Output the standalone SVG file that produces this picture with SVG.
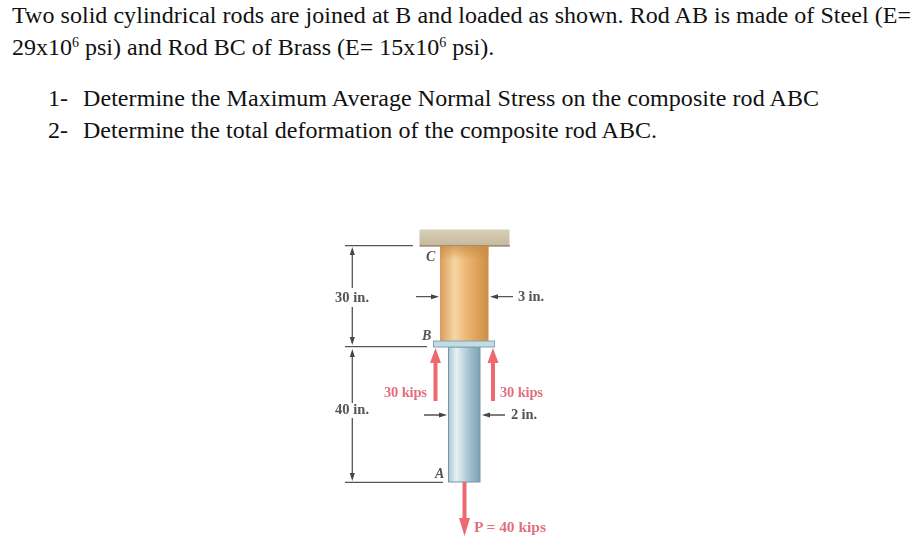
<svg xmlns="http://www.w3.org/2000/svg" width="916" height="549" viewBox="0 0 916 549">
<style>
.t{font-family:"Liberation Serif",serif;font-size:24px;fill:#111}
.s{font-size:14px}
.d{font-family:"Liberation Serif",serif;font-size:14.500px;font-weight:bold;fill:#555}
.r{font-family:"Liberation Serif",serif;font-size:14.500px;font-weight:bold;fill:#e0707f}
.big{font-size:15.500px}
.l{font-family:"Liberation Serif",serif;font-size:14px;font-weight:bold;font-style:italic;fill:#555}
.g{stroke:#555;stroke-width:1.300;fill:none}
.a{fill:#444}
.p{stroke:#ee6870;stroke-width:4;fill:none}
.h{fill:#ee6870}
.soft{filter:url(#blur)}
</style>
<defs>
<filter id="blur" x="-5%" y="-5%" width="110%" height="110%"><feGaussianBlur stdDeviation="0.600"/></filter>
<linearGradient id="brass" x1="0" x2="1" y1="0" y2="0">
<stop offset="0" stop-color="#d99d58"/><stop offset="0.3" stop-color="#f6d6a4"/><stop offset="0.55" stop-color="#ecb672"/><stop offset="1" stop-color="#cc8e46"/>
</linearGradient>
<linearGradient id="brasstop" x1="0" x2="0" y1="0" y2="1">
<stop offset="0" stop-color="#c98a3e" stop-opacity="0.700"/><stop offset="1" stop-color="#c98a3e" stop-opacity="0"/>
</linearGradient>
<linearGradient id="steel" x1="0" x2="1" y1="0" y2="0">
<stop offset="0" stop-color="#a9c6d4"/><stop offset="0.25" stop-color="#e8f1f4"/><stop offset="0.7" stop-color="#9dbccc"/><stop offset="1" stop-color="#7ea4b6"/>
</linearGradient>
<linearGradient id="wall" x1="0" x2="0" y1="0" y2="1">
<stop offset="0" stop-color="#d8cfb8"/><stop offset="1" stop-color="#c6b99c"/>
</linearGradient>
</defs>
<g id="statement">
<text class="t" x="12" y="23" textLength="899">Two solid cylindrical rods are joined at B and loaded as shown. Rod AB is made of Steel (E=</text>
<text class="t" x="12" y="55">29x10<tspan class="s" dy="-8">6</tspan><tspan dy="8"> psi) and Rod BC of Brass (E= 15x10</tspan><tspan class="s" dy="-8">6</tspan><tspan dy="8"> psi).</tspan></text>
<text class="t" x="48" y="106">1-</text>
<text class="t" x="83" y="106" textLength="736">Determine the Maximum Average Normal Stress on the composite rod ABC</text>
<text class="t" x="48" y="138">2-</text>
<text class="t" x="83" y="138" textLength="574">Determine the total deformation of the composite rod ABC.</text>
</g>
<g class="soft">
<g id="support">
<rect x="419.500" y="229.500" width="90" height="16.500" fill="url(#wall)"/>
<path d="M419.500 246H510" stroke="#6f6650" stroke-width="1.200"/>
</g>
<g id="rod-bc">
<rect x="440" y="246" width="48.500" height="95" fill="url(#brass)"/>
<rect x="440" y="246" width="48.500" height="14" fill="url(#brasstop)"/>
</g>
<g id="rod-ab">
<rect x="448.500" y="347" width="31.500" height="135" fill="url(#steel)" stroke="#6f97a6" stroke-width="1"/>
</g>
<g id="collar-b">
<rect x="433.500" y="341" width="61" height="6" fill="#c4dbe4" stroke="#7ea4b6" stroke-width="1"/>
</g>
<g id="connectors">
<path class="g" d="M345 245.700H413M345 346.700H427M345 482.300H443"/>
<path class="g" d="M352.300 250V288M352.300 307V343M352.300 352V403M352.300 418V478"/>
<path class="a" d="M352.300 247l-2.500 8h5zM352.300 345l-2.500-8h5zM352.300 349l-2.500 8h5zM352.300 481l-2.500-8h5z"/>
<path class="g" d="M416 296.700H436M513 296.700H494M424 415H444M505 415H485"/>
<path class="a" d="M439 296.700l-8-2.500v5zM490 296.700l8-2.500v5zM447 415l-8-2.500v5zM482 415l8-2.500v5z"/>
<path class="p" d="M435.500 401V360M493 401V360M464.500 482V520"/>
<path class="h" d="M435.500 348l-5.500 15h11zM493 348l-5.500 15h11zM464.500 536l-5.500-18h11z"/>
</g>
<g id="labels">
<text class="d" x="335" y="302" textLength="34">30 in.</text>
<text class="d" x="335" y="414" textLength="34">40 in.</text>
<text class="d" x="518" y="301" textLength="26">3 in.</text>
<text class="d" x="511" y="419" textLength="26">2 in.</text>
<text class="l" x="426" y="261">C</text>
<text class="l" x="422" y="340">B</text>
<text class="l" x="435" y="478">A</text>
<text class="r" x="384" y="397" textLength="43">30 kips</text>
<text class="r" x="500" y="397" textLength="43">30 kips</text>
<text class="r big" x="474" y="532" textLength="72">P = 40 kips</text>
</g>
</g>
</svg>
